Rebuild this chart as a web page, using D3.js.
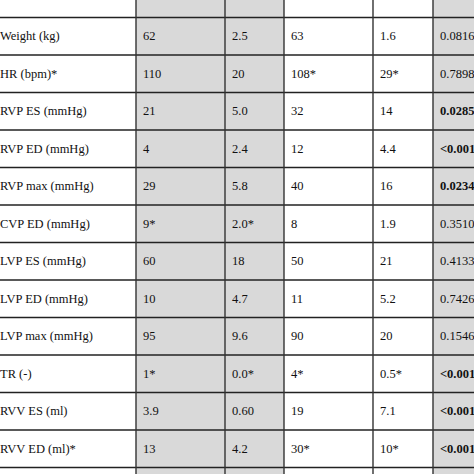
<!DOCTYPE html>
<html><head><meta charset="utf-8">
<script src="https://cdn.jsdelivr.net/npm/d3@7"></script>
<style>body{margin:0;background:#fff} text{font-family:"Liberation Serif","DejaVu Serif",serif}</style>
</head><body><div id="chart"></div>
<script>
const labels = ["Weight (kg)", "HR (bpm)*", "RVP ES (mmHg)", "RVP ED (mmHg)", "RVP max (mmHg)", "CVP ED (mmHg)",
  "LVP ES (mmHg)", "LVP ED (mmHg)", "LVP max (mmHg)", "TR (-)", "RVV ES (ml)", "RVV ED (ml)*"];
const mean1 = ["62", "110", "21", "4", "29", "9*", "60", "10", "95", "1*", "3.9", "13"];
const sd1 = ["2.5", "20", "5.0", "2.4", "5.8", "2.0*", "18", "4.7", "9.6", "0.0*", "0.60", "4.2"];
const mean2 = ["63", "108*", "32", "12", "40", "8", "50", "11", "90", "4*", "19", "30*"];
const sd2 = ["1.6", "29*", "14", "4.4", "16", "1.9", "21", "5.2", "20", "0.5*", "7.1", "10*"];
const pvals = ["0.0816", "0.7898", "0.0285", "<0.001", "0.0234", "0.3510", "0.4133", "0.7426", "0.1546", "<0.001", "<0.001", "<0.001"];
const bold = [false, false, true, true, true, false, false, false, false, true, true, true];

const W = 474, H = 474;
const colEdges = [-10, 136, 225, 284, 373, 433, 520];
const greyCols = [1, 2, 5];
const svg = d3.select("#chart").append("svg").attr("width", W).attr("height", H);

const y = d3.scaleBand().domain(d3.range(-1, labels.length + 1)).range([-20, 505]);

svg.selectAll("rect.grey").data(greyCols).join("rect")
  .attr("x", c => colEdges[c]).attr("width", c => colEdges[c + 1] - colEdges[c])
  .attr("y", 0).attr("height", H).attr("fill", "#d9d9d9");

const cols = [labels, mean1, sd1, mean2, sd2, pvals];
labels.forEach((_, i) => {
  cols.forEach((col, c) => {
    svg.append("text")
      .attr("x", c === 0 ? 0 : colEdges[c] + 7)
      .attr("y", y(i) + y.bandwidth() / 2 + 4)
      .attr("font-size", 12.5)
      .attr("font-weight", c === 5 && bold[i] ? "bold" : "normal")
      .attr("fill", "#111").text(col[i]);
  });
});

svg.selectAll("line.h").data(d3.range(0, labels.length + 1)).join("line")
  .attr("x1", 0).attr("x2", W)
  .attr("y1", i => y(i)).attr("y2", i => y(i))
  .attr("stroke", "#222").attr("stroke-width", 1.6);
svg.selectAll("line.v").data(colEdges.slice(1, 6)).join("line")
  .attr("x1", d => d).attr("x2", d => d).attr("y1", 0).attr("y2", H)
  .attr("stroke", "#333").attr("stroke-width", 1.4);
</script></body></html>
